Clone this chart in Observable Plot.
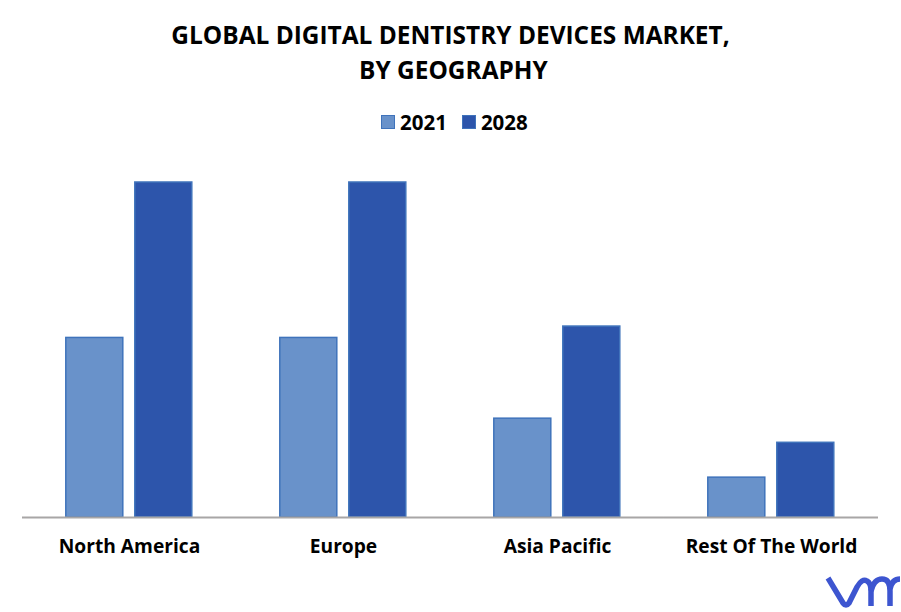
<!DOCTYPE html>
<html>
<head>
<meta charset="utf-8">
<script src="https://cdn.jsdelivr.net/npm/d3@7"></script>
<script src="https://cdn.jsdelivr.net/npm/@observablehq/plot@0.6"></script>
<style>
  body { margin: 0; background: #fff; font-family: "Open Sans", sans-serif; color: #000; position: relative; width: 901px; height: 612px; overflow: hidden; }
  #title { position: absolute; top: 17px; left: 0; width: 901px; text-align: center; font-size: 25px; font-weight: 700; line-height: 35px; transform: scaleX(0.977); }
  #title span { position: relative; left: 3px; }
  #legend { position: absolute; top: 107px; left: 381px; display: flex; align-items: center; font-size: 20.5px; font-weight: 700; line-height: 30px; }
  #legend i { display: inline-block; width: 12px; height: 12px; border: 1.5px solid #3f73bb; margin-right: 5px; }
  #legend span { margin-right: 15px; }
  #chart { position: absolute; top: 150px; left: 0; }
  #logo { position: absolute; left: 822px; top: 568px; }
</style>
</head>
<body>
<div id="title">GLOBAL DIGITAL DENTISTRY DEVICES MARKET,<br><span>BY GEOGRAPHY</span></div>
<div id="legend"></div>
<div id="chart"></div>
<svg id="logo" width="79" height="42" viewBox="0 0 79 42" fill="none" stroke="#3d55d0" stroke-width="5.5">
  <path d="M6 10 L21 35 Q24 39 27 35 L35 19 Q40 10 45 13 Q49 15 49 23 L49 38"/>
  <path d="M49 23 Q52 11 60 11 Q68 11 68 23 L68 38"/>
  <path d="M68 21 Q70 11 78 11"/>
</svg>
<script>
const regions = ["North America", "Europe", "Asia Pacific", "Rest Of The World"]
const years = ["2021", "2028"]
const values2021 = [53.6, 53.6, 29.5, 11.9]
const values2028 = [100, 100, 57, 22.3]
const colors = ["#6992ca", "#2d55ab"]

const rows = regions.flatMap((r, i) => [
  {region: r, year: years[0], value: values2021[i]},
  {region: r, year: years[1], value: values2028[i]},
])

d3.select("#legend").selectAll("span").data(years).join("span")
  .html((d, i) => `<i style="background:${colors[i]}"></i>${d}`)
  .style("display", "flex").style("align-items", "center")

const chart = Plot.plot({
  width: 901,
  height: 410,
  marginLeft: 22.2,
  marginRight: 22.8,
  marginTop: 32,
  marginBottom: 43,
  style: {fontFamily: "Open Sans, sans-serif", background: "transparent", overflow: "visible"},
  fx: {domain: regions, padding: 0, label: null},
  x: {domain: years, paddingInner: 0.17, paddingOuter: 0.625, axis: null},
  y: {domain: [0, 100], axis: null},
  color: {domain: years, range: colors},
  marks: [
    Plot.barY(rows, {fx: "region", x: "year", y: "value", fill: "year", stroke: "#3f73bb", strokeWidth: 1.5}),
    Plot.ruleY([0], {stroke: "#a8a6a6", strokeWidth: 2}),
    Plot.axisFx({domain: regions, anchor: "bottom", label: null, tickSize: 0, tickPadding: 22, fontSize: 19.2, fontWeight: 700, fill: "#000"}),
  ],
})
d3.select("#chart").append(() => chart)
</script>
</body>
</html>
